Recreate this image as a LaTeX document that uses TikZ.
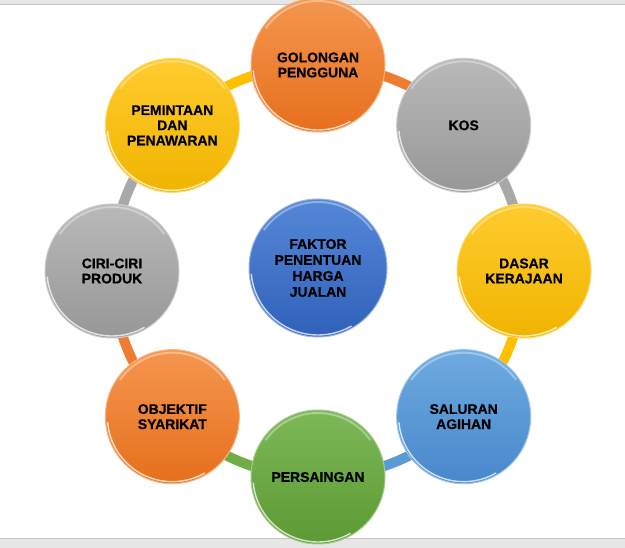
\documentclass[tikz,border=0pt]{standalone}
\usepackage{fontspec}
\setmainfont{Liberation Sans}
\newfontface\heavyfont{Liberation Sans Bold}[FakeBold=0.7]
\usetikzlibrary{backgrounds}
\definecolor{or1}{HTML}{F5964F}\definecolor{or2}{HTML}{E66F1C}\definecolor{orb}{HTML}{EE7D31}
\definecolor{gy1}{HTML}{B9B9B9}\definecolor{gy2}{HTML}{979797}\definecolor{gyb}{HTML}{A8A8A8}
\definecolor{ye1}{HTML}{FFCC2E}\definecolor{ye2}{HTML}{F0B400}\definecolor{yeb}{HTML}{FFC000}
\definecolor{bl1}{HTML}{6EABE0}\definecolor{bl2}{HTML}{4887CC}\definecolor{blb}{HTML}{5B9BD5}
\definecolor{gr1}{HTML}{7DB858}\definecolor{gr2}{HTML}{5C9A34}\definecolor{grb}{HTML}{70AD47}
\definecolor{cb1}{HTML}{5587D8}\definecolor{cb2}{HTML}{3061BA}
\definecolor{bargray}{HTML}{E6E6E6}\definecolor{barline}{HTML}{C4C4C4}
\begin{document}
\begin{tikzpicture}[x=1bp,y=1bp,
  ball/.style={circle, minimum size=#1, inner sep=0pt, align=center,
    font=\heavyfont\fontsize{14}{15.2}\selectfont, text=black, line width=1bp,
    path picture={
      \draw[white, opacity=0.35, line width=2bp] (path picture bounding box.center) ++(145:0.5*#1-3bp) arc[start angle=145, end angle=35, radius=0.5*#1-3bp];
      \draw[white, opacity=0.75, line width=1.4bp] (path picture bounding box.center) ++(185:0.5*#1-2bp) arc[start angle=185, end angle=300, radius=0.5*#1-2bp];
    }},
  ball/.default=134bp,
  band/.style={line width=10bp},
  seg/.style={bend left=22.5, looseness=0.885},
]
\useasboundingbox (0,0) rectangle (625,548);
\begin{scope}[on background layer]
\fill[white] (0,0) rectangle (625,548);
\fill[bargray] (0,543.5) rectangle (625,548);
\draw[barline, line width=0.8bp] (0,543.5) -- (625,543.5);
\fill[bargray] (0,0) rectangle (625,10);
\draw[barline, line width=0.8bp] (0,10) -- (625,10);
\end{scope}
\coordinate (c) at (318,277);
\path (c) ++(90:206) node[ball, top color=or1, bottom color=or2, draw=or1!70!white] (g) {GOLONGAN\\PENGGUNA};
\path (c) ++(45:206) node[ball, top color=gy1, bottom color=gy2, draw=gy1!70!white] (k) {KOS};
\path (c) ++(0:206) node[ball, top color=ye1, bottom color=ye2, draw=ye1!70!white] (d) {DASAR\\KERAJAAN};
\path (c) ++(-45:206) node[ball, top color=bl1, bottom color=bl2, draw=bl1!70!white] (s) {SALURAN\\AGIHAN};
\path (c) ++(-90:206) node[ball, top color=gr1, bottom color=gr2, draw=gr1!70!white] (p) {PERSAINGAN};
\path (c) ++(-135:206) node[ball, top color=or1, bottom color=or2, draw=or1!70!white] (o) {OBJEKTIF\\SYARIKAT};
\path (c) ++(180:206) node[ball, top color=gy1, bottom color=gy2, draw=gy1!70!white] (r) {CIRI-CIRI\\PRODUK};
\path (c) ++(135:206) node[ball, top color=ye1, bottom color=ye2, draw=ye1!70!white] (m) {PEMINTAAN\\DAN\\PENAWARAN};
\node[ball=138bp, top color=cb1, bottom color=cb2, draw=cb1!60!white, font=\heavyfont\fontsize{14}{16}\selectfont] (f) at (318,280) {FAKTOR\\PENENTUAN\\HARGA\\JUALAN};
\begin{scope}[on background layer]
\draw[band, orb] (g.center) to[seg] (k.center);
\draw[band, gyb] (k.center) to[seg] (d.center);
\draw[band, yeb] (d.center) to[seg] (s.center);
\draw[band, blb] (s.center) to[seg] (p.center);
\draw[band, grb] (p.center) to[seg] (o.center);
\draw[band, orb] (o.center) to[seg] (r.center);
\draw[band, gyb] (r.center) to[seg] (m.center);
\draw[band, yeb] (m.center) to[seg] (g.center);
\end{scope}
\end{tikzpicture}
\end{document}
